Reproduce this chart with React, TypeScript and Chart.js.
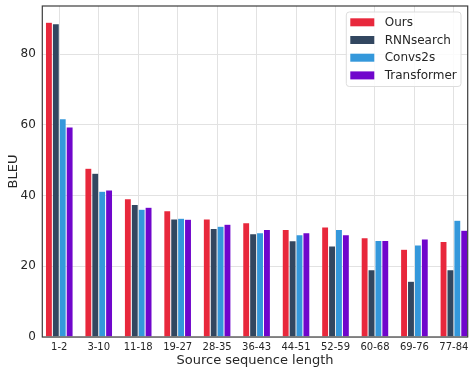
import React, { useEffect, useRef } from "react";
import { Chart, registerables } from "chart.js";

Chart.register(...registerables);

const categories = ["1-2", "3-10", "11-18", "19-27", "28-35", "36-43", "44-51", "52-59", "60-68", "69-76", "77-84"];
const oursValues = [89.0, 47.7, 39.1, 35.7, 33.4, 32.3, 30.4, 31.1, 28.1, 24.8, 27.0];
const rnnsearchValues = [88.6, 46.3, 37.5, 33.4, 30.7, 29.2, 27.2, 25.7, 19.0, 15.8, 19.0];
const convs2sValues = [61.7, 41.2, 36.1, 33.6, 31.3, 29.5, 28.9, 30.4, 27.3, 26.0, 33.0];
const transformerValues = [59.4, 41.6, 36.7, 33.3, 31.9, 30.4, 29.5, 28.9, 27.3, 27.7, 30.2];
const yTicks = [0, 20, 40, 60, 80];

const seriesNames = ["Ours", "RNNsearch", "Convs2s", "Transformer"];
const seriesColors = ["#e8283c", "#324760", "#3498db", "#7006cc"];

const FONT = "'DejaVu Sans', sans-serif";
const TEXT = "#262626";

const framePlugin = {
  id: "frameAndLegend",
  afterDraw(chart: any) {
    const { ctx, chartArea } = chart;
    ctx.save();
    ctx.strokeStyle = "#3c3c3c";
    ctx.lineWidth = 1.2;
    ctx.strokeRect(chartArea.left, chartArea.top, chartArea.right - chartArea.left, chartArea.bottom - chartArea.top);

    // legend
    ctx.font = `12px ${FONT}`;
    const datasets = chart.data.datasets;
    let maxW = 0;
    datasets.forEach((d: any) => {
      maxW = Math.max(maxW, ctx.measureText(d.label).width);
    });
    const padL = 4, swW = 24, swH = 8, gap = 10.4, padR = 4.3;
    const boxW = padL + swW + gap + maxW + padR;
    const boxRight = chartArea.right - 6.7;
    const boxLeft = boxRight - boxW;
    const boxTop = chartArea.top + 6;
    const rowH = 17.7;
    const boxH = 10.3 * 2 + rowH * (datasets.length - 1) + 0.8;
    ctx.beginPath();
    ctx.roundRect(boxLeft, boxTop, boxW, boxH, 3);
    ctx.fillStyle = "rgba(255,255,255,0.85)";
    ctx.fill();
    ctx.strokeStyle = "#dddddd";
    ctx.lineWidth = 1;
    ctx.stroke();
    datasets.forEach((d: any, i: number) => {
      const cy = boxTop + 10.3 + i * rowH;
      ctx.fillStyle = d.backgroundColor;
      ctx.fillRect(boxLeft + padL, cy - swH / 2, swW, swH);
      ctx.fillStyle = TEXT;
      ctx.textBaseline = "middle";
      ctx.textAlign = "left";
      ctx.fillText(d.label, boxLeft + padL + swW + gap, cy + 0.5);
    });
    ctx.restore();
  },
};

export default function App() {
  const ref = useRef<HTMLCanvasElement>(null);

  useEffect(() => {
    document.body.style.margin = "0";
    const canvas = ref.current;
    if (!canvas) return;
    const allValues = [oursValues, rnnsearchValues, convs2sValues, transformerValues];
    const chart = new Chart(canvas, {
      type: "bar",
      data: {
        datasets: allValues.map((vals, s) => ({
          label: seriesNames[s],
          data: vals.map((v, i) => ({ x: i, y: v })),
          backgroundColor: seriesColors[s],
          borderColor: "rgba(255,255,255,0.45)",
          borderWidth: 0.5,
          categoryPercentage: 0.7,
          barPercentage: 1,
        })),
      },
      options: {
        animation: false,
        responsive: false,
        maintainAspectRatio: false,
        layout: { padding: { top: 6, right: 6.3, left: 0, bottom: 0 } },
        plugins: {
          legend: { display: false },
          tooltip: { enabled: false },
        },
        scales: {
          x: {
            type: "linear",
            offset: false,
            min: -0.43,
            max: 10.35,
            afterBuildTicks: (scale: any) => {
              scale.ticks = categories.map((_, i) => ({ value: i }));
            },
            afterFit: (scale: any) => {
              scale.height = 37;
              scale.paddingLeft = 0;
              scale.paddingRight = 0;
            },
            ticks: {
              callback: (v: any) => categories[Math.round(Number(v))] ?? "",
              font: { family: FONT, size: 10 },
              color: TEXT,
              padding: 4,
              maxRotation: 0,
              autoSkip: false,
            },
            grid: { color: "#e2e2e2", lineWidth: 1, drawTicks: false, offset: false },
            border: { display: false },
            title: {
              display: true,
              text: "Source sequence length",
              font: { family: FONT, size: 13 },
              color: TEXT,
              padding: { top: 0, bottom: 6 },
            },
          },
          y: {
            min: 0,
            max: 93.6,
            afterBuildTicks: (scale: any) => {
              scale.ticks = yTicks.map((v) => ({ value: v }));
            },
            afterFit: (scale: any) => {
              scale.width = 42.3;
              scale.paddingTop = 0;
              scale.paddingBottom = 0;
            },
            ticks: {
              font: { family: FONT, size: 12 },
              color: TEXT,
              padding: 6.5,
            },
            grid: { color: "#e2e2e2", lineWidth: 1, drawTicks: false },
            border: { display: false },
            title: {
              display: true,
              text: "BLEU",
              font: { family: FONT, size: 13 },
              color: TEXT,
              padding: { top: 5.5, bottom: 0 },
            },
          },
        },
      },
      plugins: [framePlugin],
    });
    return () => chart.destroy();
  }, []);

  return (
    <div style={{ width: 474, height: 374 }}>
      <canvas ref={ref} width={474} height={374} style={{ display: "block" }} />
    </div>
  );
}
